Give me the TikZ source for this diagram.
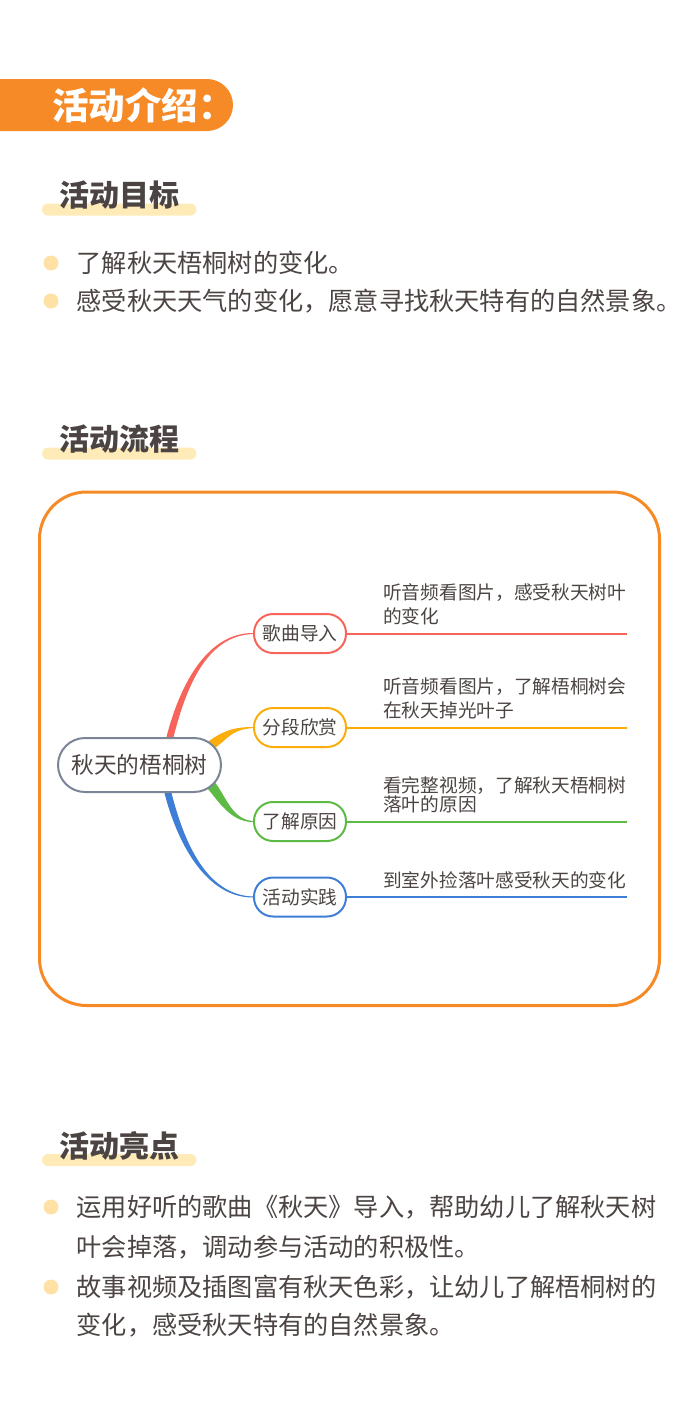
\documentclass[tikz,border=0pt]{standalone}
\usepackage{fontspec}
\setmainfont{Noto Sans CJK SC}
\usepackage{tikz}
\usetikzlibrary{positioning,backgrounds}

\definecolor{mainorange}{HTML}{F68A27}
\definecolor{barcolor}{HTML}{FEEBB8}
\definecolor{dotcolor}{HTML}{FEE1A5}
\definecolor{txt}{HTML}{4B4442}
\definecolor{brred}{HTML}{F6645A}
\definecolor{brorange}{HTML}{FBAD0C}
\definecolor{brgreen}{HTML}{5DBA44}
\definecolor{brblue}{HTML}{3F7ED6}
\definecolor{rootgray}{HTML}{7B8596}

\begin{document}
\begin{tikzpicture}[x=1pt, y=-1pt,
    headtext/.style={font=\fontsize{30}{36}\selectfont\bfseries, text=txt, inner sep=0, anchor=west},
    bodytext/.style={font=\fontsize{25.2}{40}\selectfont, text=txt, inner sep=0, anchor=west, align=left},
    bulletdot/.style={shape=circle, fill=dotcolor, minimum size=15pt, inner sep=0},
    hbar/.style={fill=barcolor, rounded corners=6pt},
    rootnode/.style={draw=rootgray, line width=2pt, fill=white, rounded corners=27pt, minimum width=163pt, minimum height=54pt, inner sep=0, font=\fontsize{22.7}{27}\selectfont, text=txt},
    topic/.style={draw=#1, line width=2pt, fill=white, rounded corners=19pt, minimum width=92pt, minimum height=39pt, inner sep=0, font=\fontsize{18.7}{22}\selectfont, text=txt},
    leaf/.style={inner sep=0, align=left, font=\fontsize{18.7}{24}\selectfont, text=txt},
    leafline/.style={draw=#1, line width=2pt},
    branch/.style={line width=1pt, line join=round}]

        \useasboundingbox (0,0) rectangle (700,1401);

        % banner
        \fill[mainorange, rounded corners=26pt] (-40,79) rectangle (233,131);
        \node[headtext, text=white, font=\fontsize{36.5}{40}\selectfont\bfseries] (intro) at (52,105) {活动介绍：};

        % section heads
        \node[headtext] (goal) at (59.5,195.5) {活动目标};
        \node[headtext] (flow) at (59.5,439.5) {活动流程};
        \node[headtext] (bright) at (59.5,1146) {活动亮点};

        % goals
        \node[bulletdot] (g1dot) at (51,263) {};
        \node[bodytext] (g1) at (76.5,263) {了解秋天梧桐树的变化。};
        \node[bulletdot] (g2dot) at (51,301) {};
        \node[bodytext] (g2) at (76.5,301) {感受秋天天气的变化，愿意寻找秋天特有的自然景象。};

        % flow frame
        \draw[mainorange, line width=3pt, rounded corners=47pt] (39.5,492) rectangle (659.5,1005.5);

        \node[rootnode] (root) at (139.5,765) {秋天的梧桐树};
        \node[topic=brred] (song) at (300,633.5) {歌曲导入};
        \node[topic=brorange] (part) at (300,727.5) {分段欣赏};
        \node[topic=brgreen] (reason) at (300,821.5) {了解原因};
        \node[topic=brblue] (practice) at (300,897) {活动实践};

        \coordinate[right=280pt of song.east] (songend);
        \coordinate[right=280pt of part.east] (partend);
        \coordinate[right=280pt of reason.east] (reasonend);
        \coordinate[right=280pt of practice.east] (practiceend);

        \draw[leafline=brred] (song.east) -- (songend);
        \draw[leafline=brorange] (part.east) -- (partend);
        \draw[leafline=brgreen] (reason.east) -- (reasonend);
        \draw[leafline=brblue] (practice.east) -- (practiceend);

        \node[leaf, above right=8pt and 36pt of song.east] (songleaf) {听音频看图片，感受秋天树叶\\的变化};
        \node[leaf, above right=8pt and 36pt of part.east] (partleaf) {听音频看图片，了解梧桐树会\\在秋天掉光叶子};
        \node[leaf, above right=8pt and 36pt of reason.east] (reasonleaf) {看完整视频，了解秋天梧桐树\\[-5pt]落叶的原因};
        \node[leaf, above right=8pt and 36pt of practice.east] (practiceleaf) {到室外捡落叶感受秋天的变化};

        % highlights
        \node[bulletdot] (h1dot) at (51,1207) {};
        \node[bodytext] (h1) at (76.5,1227) {运用好听的歌曲《秋天》导入，帮助幼儿了解秋天树\\叶会掉落，调动参与活动的积极性。};
        \node[bulletdot] (h2dot) at (51,1287) {};
        \node[bodytext] (h2) at (76.5,1306) {故事视频及插图富有秋天色彩，让幼儿了解梧桐树的\\[-2pt]变化，感受秋天特有的自然景象。};

        \begin{scope}[on background layer]
            \foreach \h in {goal, flow, bright}
                \fill[hbar] ([xshift=-17.5pt, yshift=-8pt]\h.west) rectangle ([xshift=16.5pt, yshift=-20pt]\h.east);

            % branches
            \filldraw[branch, brred] ([xshift=27.5pt]root.north) .. controls +(12,-47) and +(-48,0) .. (song.west)
                .. controls +(-48,1.5) and +(12,-47) .. ([xshift=33.5pt]root.north) -- cycle;
            \filldraw[branch, brorange] ([xshift=-15pt, yshift=-6pt]root.north east) .. controls +(14,-10) and +(-22,0) .. (part.west)
                .. controls +(-22,1.5) and +(14,-10) .. ([xshift=-8.5pt, yshift=-11.5pt]root.north east) -- cycle;
            \filldraw[branch, brgreen] ([xshift=-15pt, yshift=6pt]root.south east) .. controls +(12,14) and +(-22,0) .. (reason.west)
                .. controls +(-22,-1.5) and +(12,14) .. ([xshift=-8.6pt, yshift=11.6pt]root.south east) -- cycle;
            \filldraw[branch, brblue] ([xshift=25.5pt]root.south) .. controls +(12,47) and +(-48,0) .. (practice.west)
                .. controls +(-48,-1.5) and +(12,47) .. ([xshift=31.5pt]root.south) -- cycle;
        \end{scope}
    \end{tikzpicture}
\end{document}
